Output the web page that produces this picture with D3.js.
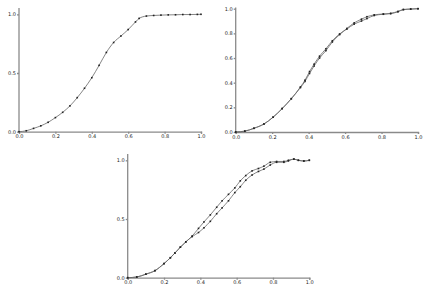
<!DOCTYPE html>
<html>
<head>
<meta charset="utf-8">
<script src="https://cdn.jsdelivr.net/npm/d3@7"></script>
<style>
  body { margin: 0; background: #fff; }
  svg { display: block; }
  .axis path, .axis line { stroke: #8a8a8a; stroke-width: 1.3; }
  .axis text { font-family: "DejaVu Sans", sans-serif; font-size: 5px; fill: #222; }
</style>
</head>
<body>
<svg width="428" height="295"></svg>
<script>
// panel 1: single curve
const p1x = [0, 0.04, 0.08, 0.12, 0.16, 0.20, 0.24, 0.28, 0.32, 0.36, 0.40, 0.44, 0.48, 0.52, 0.56, 0.60, 0.64, 0.66, 0.70, 0.74, 0.78, 0.82, 0.86, 0.90, 0.94, 0.98, 1.0];
const p1y = [0, 0.008, 0.028, 0.05, 0.08, 0.12, 0.165, 0.22, 0.29, 0.37, 0.46, 0.565, 0.675, 0.76, 0.815, 0.87, 0.935, 0.965, 0.985, 0.99, 0.993, 0.995, 0.996, 0.998, 0.998, 0.999, 1.0];

// panel 2: two near-identical curves
const p2x = [0, 0.05, 0.10, 0.155, 0.205, 0.255, 0.305, 0.355, 0.38, 0.405, 0.43, 0.46, 0.495, 0.53, 0.57, 0.61, 0.65, 0.69, 0.72, 0.76, 0.81, 0.85, 0.89, 0.92, 0.96, 1.0];
const p2a = [0, 0.007, 0.03, 0.065, 0.12, 0.19, 0.27, 0.36, 0.41, 0.475, 0.535, 0.60, 0.66, 0.73, 0.79, 0.84, 0.885, 0.915, 0.935, 0.95, 0.957, 0.96, 0.975, 0.993, 0.997, 1.0];
const p2b = [0, 0.007, 0.03, 0.065, 0.12, 0.19, 0.27, 0.365, 0.42, 0.49, 0.55, 0.615, 0.675, 0.74, 0.795, 0.835, 0.875, 0.90, 0.92, 0.945, 0.955, 0.962, 0.978, 0.993, 0.997, 1.0];

// panel 3: two diverging curves
const p3x = [0, 0.05, 0.10, 0.15, 0.20, 0.235, 0.26, 0.29, 0.32, 0.355, 0.39, 0.42, 0.455, 0.49, 0.52, 0.555, 0.59, 0.62, 0.65, 0.685, 0.72, 0.75, 0.785, 0.82, 0.86, 0.885, 0.915, 0.94, 0.97, 1.0];
const p3a = [0, 0.006, 0.03, 0.06, 0.12, 0.17, 0.21, 0.26, 0.305, 0.355, 0.42, 0.475, 0.535, 0.60, 0.655, 0.71, 0.765, 0.825, 0.87, 0.91, 0.93, 0.95, 0.983, 0.99, 0.99, 1.0, 1.01, 1.0, 0.994, 1.0];
const p3b = [0, 0.006, 0.03, 0.06, 0.12, 0.17, 0.21, 0.26, 0.305, 0.35, 0.385, 0.425, 0.48, 0.545, 0.595, 0.655, 0.725, 0.775, 0.83, 0.875, 0.905, 0.925, 0.96, 0.983, 0.983, 0.995, 1.01, 1.0, 0.994, 1.0];

const xTicks = [0, 0.2, 0.4, 0.6, 0.8, 1.0];
const yTicksHalf = [0, 0.5, 1.0];
const yTicksFifth = [0, 0.2, 0.4, 0.6, 0.8, 1.0];

const svg = d3.select('svg');

function panel(box, yTicks, series) {
    const g = svg.append('g');
    const x = d3.scaleLinear().domain([0, 1]).range([box.left, box.right]);
    const y = d3.scaleLinear().domain([0, 1]).range([box.bottom, box.top]);

    g.append('g')
        .attr('class', 'axis')
        .attr('transform', `translate(0, ${box.bottom})`)
        .call(d3.axisBottom(x).tickValues(xTicks).tickFormat(d3.format('.1f')).tickSize(2).tickPadding(1));

    const ya = g.append('g')
        .attr('class', 'axis')
        .attr('transform', `translate(${box.left}, 0)`)
        .call(d3.axisLeft(y).tickValues(yTicks).tickFormat(d3.format('.1f')).tickSize(2).tickPadding(1));
    // y axis line runs a bit above the 1.0 tick
    ya.select('.domain').attr('d', `M0,${box.bottom}V${box.axisTop}`);

    const line = d3.line()
        .x((d) => x(d[0]))
        .y((d) => y(d[1]))
        .curve(d3.curveMonotoneX);

    series.forEach((s) => {
        g.append('path')
            .datum(s)
            .attr('fill', 'none')
            .attr('stroke', '#666')
            .attr('stroke-width', 0.8)
            .attr('d', line);

        g.selectAll(null)
            .data(s)
            .enter()
            .append('rect')
            .attr('x', (d) => x(d[0]) - 0.8)
            .attr('y', (d) => y(d[1]) - 0.8)
            .attr('width', 1.6)
            .attr('height', 1.6)
            .attr('fill', '#222');
    });
}

const zip = (xs, ys) => xs.map((v, i) => [v, ys[i]]);

panel({ left: 19, right: 201, bottom: 131.7, top: 14.3, axisTop: 8 }, yTicksHalf, [zip(p1x, p1y)]);
panel({ left: 235.7, right: 418, bottom: 132, top: 8.7, axisTop: 7.5 }, yTicksFifth, [zip(p2x, p2a), zip(p2x, p2b)]);
panel({ left: 127.7, right: 309.3, bottom: 277.7, top: 160.3, axisTop: 154 }, yTicksHalf, [zip(p3x, p3a), zip(p3x, p3b)]);
</script>
</body>
</html>
